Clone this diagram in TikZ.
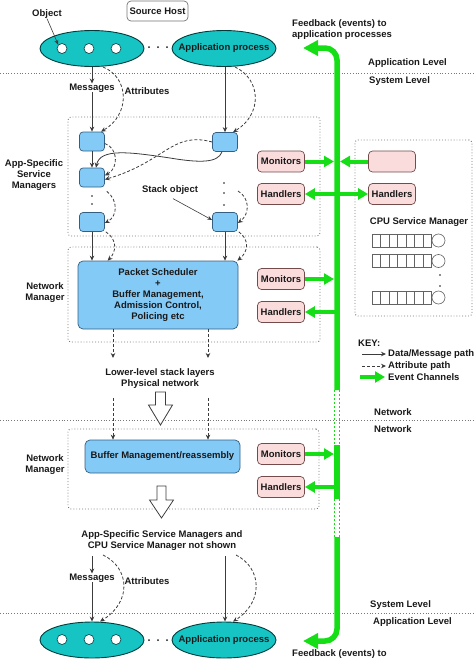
\documentclass[tikz,border=0pt]{standalone}
\usepackage{fontspec}
\setmainfont{Liberation Sans}
\usetikzlibrary{shapes.geometric,arrows.meta}
\definecolor{tealc}{RGB}{22,196,196}
\definecolor{tealdk}{RGB}{0,60,60}
\definecolor{bluec}{RGB}{132,202,246}
\definecolor{bluedk}{RGB}{50,95,130}
\definecolor{pinkc}{RGB}{251,220,220}
\definecolor{pinkdk}{RGB}{115,75,75}
\definecolor{evg}{RGB}{22,222,22}
\definecolor{inkc}{RGB}{25,25,25}
\definecolor{linec}{RGB}{60,60,60}
\definecolor{dotc}{RGB}{120,120,120}
\tikzset{
 lbl/.style={inner sep=0pt, text=inkc, align=center},
 ell/.style={ellipse, draw=tealdk, fill=tealc, line width=0.9pt, minimum width=104pt, minimum height=36pt, inner sep=0pt},
 objc/.style={circle, draw=tealdk, fill=white, line width=0.6pt, minimum size=10pt, inner sep=0pt},
 asm/.style={draw=bluedk, fill=bluec, rounded corners=3.5pt, line width=0.7pt, minimum width=25pt, minimum height=19pt, inner sep=0pt},
 bigbox/.style={draw=bluedk, fill=bluec, rounded corners=5pt, line width=0.7pt, inner sep=0pt, align=center, text=inkc},
 pbox/.style={draw=pinkdk, fill=pinkc, rounded corners=4pt, line width=0.7pt, minimum width=47pt, minimum height=21pt, inner sep=0pt, text=inkc},
 grp/.style={draw=dotc, dotted, line width=0.9pt, rounded corners=3pt, inner sep=0pt},
 lvl/.style={draw=dotc, dotted, line width=0.8pt},
 data/.style={draw=linec, line width=0.8pt, -{Stealth[length=5pt,width=4.5pt]}},
 attr/.style={data, dash pattern=on 3pt off 2pt},
 ptr/.style={draw=linec, line width=0.6pt, -{Stealth[length=5pt,width=4pt]}},
 evt/.style={draw=evg, line width=4pt, -{Triangle[length=10pt,width=11pt]}},
 evtboth/.style={draw=evg, line width=4pt, {Triangle[length=10pt,width=11pt]}-{Triangle[length=10pt,width=11pt]}},
 bus/.style={draw=evg, line width=5.5pt},
 busgap/.style={draw=evg, line width=0.6pt, dash pattern=on 2pt off 2pt, double=white, double distance=4pt},
 hollow/.style={draw=linec, fill=white, line width=0.8pt, line join=miter},
 queue/.style={draw=linec!80, line width=0.6pt},
 dotmark/.style={fill=inkc},
}
\begin{document}
\begin{tikzpicture}[x=1pt,y=-1pt,font=\fontsize{9.5}{11}\selectfont\bfseries]
\useasboundingbox (0,0) rectangle (474,659);
% groups
\node[grp, minimum width=252pt, minimum height=119pt] (asmg) at (194,176.5) {};
\node[grp, minimum width=252pt, minimum height=95pt] (nmg) at (194,294.5) {};
\node[grp, minimum width=251pt, minimum height=80pt] (nmtg) at (193.5,469) {};
\node[grp, minimum width=117pt, minimum height=176pt] (cpug) at (413.5,228) {};
% level lines
\draw[lvl] (0,73) -- (474,73);
\draw[lvl] (0,420) -- (474,420);
\draw[lvl] (0,613) -- (474,613);
% top
\node[lbl] (objlbl) at (47,14) {Object};
\node[draw=linec!70, fill=white, rounded corners=4pt, line width=0.7pt, minimum width=61pt, minimum height=20pt, inner sep=0pt, text=inkc] (srchost) at (157.5,11) {Source Host};
\node[ell] (srcL) at (92,48.5) {};
\node[objc] (oa) at (62,48.5) {};
\node[objc] (ob) at (89,48.5) {};
\node[objc] (oc) at (116,48.5) {};
\node[ell] (srcR) at (224,48.5) {};
\node[lbl] (srcRt) at (srcR) {Application process};
\foreach \xd in {149,158,167} \fill[dotmark] (\xd,47) circle[radius=1pt];
\draw[ptr] (objlbl.south) -- (oa.north west);
\node[lbl, anchor=west, align=left] (fbtxt) at (292,30) {Feedback (events) to\\application processes};
\node[lbl, anchor=west] (applvlT) at (368,63) {Application Level};
\node[lbl, anchor=west] (syslvlT) at (369,81) {System Level};
% ASM
\node[lbl] (asmlbl) at (34,175) {App-Specific\\Service\\Managers};
\node[asm] (L1) at (92,141.5) {};
\node[asm] (L2) at (92,177.5) {};
\node[asm] (L3) at (92,222) {};
\node[asm] (R1) at (225,142) {};
\node[asm] (R3) at (225,222) {};
\foreach \yd in {196,204} \fill[dotmark] (92,\yd) circle[radius=0.8pt];
\foreach \yd in {183,193,205} \fill[dotmark] (224,\yd) circle[radius=0.8pt];
\node[lbl] (msgT) at (92,88) {Messages};
\node[lbl] (attT) at (147,91) {Attributes};
\draw[data] (srcL.south) -- (msgT.north);
\draw[data] (msgT.south) -- (L1.north);
\draw[attr] ([xshift=11pt]srcL.south) .. controls (130,78) and (130,115) .. ([xshift=9pt]L1.north);
\draw[data] (srcR.south -| R1.north) -- (R1.north);
\draw[attr] ([xshift=11pt]srcR.south) .. controls (262,80) and (262,115) .. ([xshift=8pt]R1.north);
\draw[data] (L1.south) -- (L2.north);
\draw[data] ([xshift=-3pt]R1.south) .. controls (218,163) and (200,163) .. (170,158) .. controls (130,152) and (100,148) .. ([xshift=4pt]L2.north);
\draw[attr] (R1.west) .. controls (172,131) and (165,162) .. ([yshift=-2pt]L2.east);
\draw[attr] ([yshift=-2pt]L1.east) .. controls (118,148) and (119,168) .. ([yshift=2pt]L2.east);
\draw[attr] ([xshift=2pt,yshift=-4pt]L2.south east) .. controls (118,200) and (118,216) .. ([yshift=-1pt]L3.east);
\coordinate (rdots) at (238,191);
\draw[attr] (rdots) .. controls (250,198) and (250,214) .. ([yshift=-1pt]R3.east);
\node[lbl] (stk) at (170,190) {Stack object};
\draw[ptr] ([xshift=3pt,yshift=-4pt]stk.south) -- ([yshift=2pt]R3.west);
% Network manager
\node[lbl] (nmlbl) at (45,293) {Network\\Manager};
\node[bigbox, minimum width=160pt, minimum height=68pt] (ps) at (158,295) {Packet Scheduler\\+\\Buffer Management,\\Admission Control,\\Policing etc};
\draw[data] (L3.south) -- (L3.south |- ps.north);
\draw[attr] ([xshift=1pt]L3.south east) .. controls (118,240) and (116,252) .. ([xshift=30pt]ps.north west);
\draw[data] (R3.south) -- (R3.south |- ps.north);
\draw[attr] ([xshift=1pt]R3.south east) .. controls (250,240) and (248,252) .. ([xshift=-1pt]ps.north east);
% pink boxes
\node[pbox] (mon1) at (281,161.5) {Monitors};
\node[pbox] (han1) at (281,194) {Handlers};
\node[pbox] (cpumon) at (392,161.5) {};
\node[pbox] (han2) at (392,194) {Handlers};
\node[pbox] (mon2) at (281,279) {Monitors};
\node[pbox] (han3) at (281,312) {Handlers};
\node[pbox] (mon3) at (281,454) {Monitors};
\node[pbox] (han4) at (281,487) {Handlers};
% CPU service manager
\node[lbl] (cpulbl) at (419,222) {CPU Service Manager};
\foreach \yq in {240.5,261,297.5} {
  \foreach \i in {0,...,6} \draw[queue] (372+\i*8.5,\yq-6.5) rectangle ++(8.5,13);
  \draw[queue] (438.5,\yq) circle[radius=6.5pt];
}
\foreach \yd in {275,286} \fill[dotmark] (440,\yd) circle[radius=0.8pt];
% bus
\coordinate (busT) at (337,390);
\coordinate (fbT) at (303,48);
\coordinate (busGa) at (337,445);
\coordinate (busGb) at (337,499);
\coordinate (busB) at (337,537);
\coordinate (fbB) at (303,641);
\coordinate (busLx) at (334,0);
\coordinate (busRx) at (340,0);
\draw[busgap] (busT) -- (busGa);
\draw[busgap] (busGb) -- (busB);
\draw[bus, rounded corners=12pt, -{Triangle[length=15pt,width=15pt]}] (busT) |- (fbT);
\draw[bus] (busGa) -- (busGb);
\draw[bus, rounded corners=12pt, -{Triangle[length=15pt,width=15pt]}] (busB) |- (fbB);
\draw[evt] (mon1.east) -- (mon1.east -| busLx);
\draw[evt] (cpumon.west) -- (cpumon.west -| busRx);
\draw[evtboth] (han1.east) -- (han2.west);
\draw[evt] (mon2.east) -- (mon2.east -| busLx);
\draw[evt] (han3.east -| busT) -- (han3.east);
\draw[evt] (mon3.east) -- (mon3.east -| busLx);
\draw[evt] (han4.east -| busT) -- (han4.east);
% key
\node[lbl, anchor=west] (keyt) at (358,343) {KEY:};
\coordinate (ka) at (362,354);
\coordinate (kb) at (362,366);
\coordinate (kc) at (360,377);
\node[lbl, anchor=west] (kat) at (388,354) {Data/Message path};
\node[lbl, anchor=west] (kbt) at (388,366) {Attribute path};
\node[lbl, anchor=west] (kct) at (388,377) {Event Channels};
\draw[data] (ka) -- ([xshift=-2pt]kat.west);
\draw[attr] (kb) -- ([xshift=-2pt]kbt.west);
\draw[evt] (kc) -- ([xshift=-3pt]kct.west);
% lower layers
\node[lbl] (llsl) at (160,378.5) {Lower-level stack layers\\Physical network};
\coordinate (dla) at (113,358);
\coordinate (dlb) at (208,358);
\coordinate (dlc) at (113,398);
\coordinate (dld) at (208,398);
\draw[attr] (ps.south -| dla) -- (dla);
\draw[attr] (ps.south -| dlb) -- (dlb);
\draw[hollow] (155.5,392) -- (165.5,392) -- (165.5,405) -- (172.5,405) -- (160.5,425) -- (148.5,405) -- (155.5,405) -- cycle;
\node[lbl, anchor=west] (netA) at (374,412) {Network};
\node[lbl, anchor=west] (netB) at (374,429) {Network};
% second network manager
\node[lbl] (nmtlbl) at (45,464.5) {Network\\Manager};
\node[bigbox, minimum width=155pt, minimum height=33pt] (buf) at (162.5,456.5) {Buffer Management/reassembly};
\draw[attr] (dlc) -- (dlc |- buf.north);
\draw[attr] (dld) -- (dld |- buf.north);
\draw[hollow] (157,486) -- (166,486) -- (166,500) -- (173.5,500) -- (161.5,518) -- (149.5,500) -- (157,500) -- cycle;
% bottom
\node[lbl] (note) at (162,540.5) {App-Specific Service Managers and\\CPU Service Manager not shown};
\node[lbl] (msgB) at (92,578) {Messages};
\node[lbl] (attB) at (147,581) {Attributes};
\node[ell] (dstL) at (92,640) {};
\node[objc] (pa) at (62,639.5) {};
\node[objc] (pb) at (89,639.5) {};
\node[objc] (pc) at (116,639.5) {};
\node[ell] (dstR) at (224,640) {};
\node[lbl] (dstRt) at (dstR) {Application process};
\foreach \xd in {149,158,167} \fill[dotmark] (\xd,640) circle[radius=1pt];
\coordinate (mBa) at (92,556);
\coordinate (aBa) at (103,555);
\coordinate (mRa) at (225,556);
\coordinate (aRa) at (236,555);
\draw[data] (mBa) -- (msgB.north);
\draw[data] (msgB.south) -- (dstL.north);
\draw[attr] (aBa) .. controls (130,568) and (132,602) .. ([xshift=8pt]dstL.north);
\draw[data] (mRa) -- (mRa |- dstR.north);
\draw[attr] (aRa) .. controls (262,568) and (264,602) .. ([xshift=9pt]dstR.north);
\node[lbl, anchor=west] (syslvlB) at (370,605) {System Level};
\node[lbl, anchor=west] (applvlB) at (373,622) {Application Level};
\node[lbl, anchor=west] (fbtxtB) at (292,654) {Feedback (events) to};
\end{tikzpicture}
\end{document}
